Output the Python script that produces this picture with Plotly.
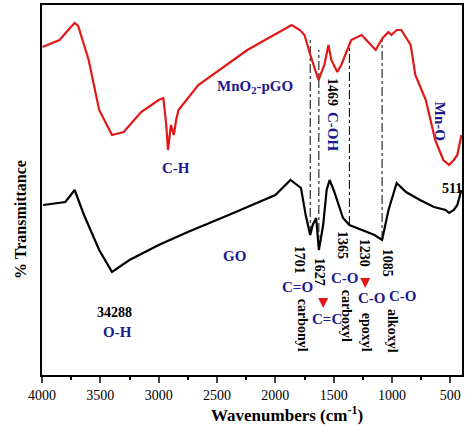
import plotly.graph_objects as go

# wavenumbers (cm-1) and transmittance (arbitrary units)
red_wn = [3995, 3850, 3760, 3720, 3690, 3600, 3510, 3400, 3300, 3150, 3000, 2960, 2935, 2920, 2895, 2870, 2850, 2830, 2660, 2240, 1860, 1790, 1750, 1700, 1630, 1580, 1545, 1520, 1469, 1435, 1350, 1260, 1180, 1140, 1080, 1030, 1005, 960, 920, 840, 800, 710, 630, 560, 511, 470, 440, 405]
red_t = [353, 360, 372, 377, 374, 340, 290, 265, 268, 288, 300, 302, 275, 250, 275, 265, 280, 290, 315, 350, 375, 370, 365, 345, 320, 335, 355, 340, 328, 335, 360, 365, 355, 350, 362, 368, 365, 370, 370, 355, 325, 300, 260, 240, 235, 240, 245, 265]
go_wn = [3990, 3800, 3760, 3720, 3640, 3510, 3400, 3250, 3000, 2750, 2400, 2000, 1870, 1780, 1740, 1701, 1680, 1650, 1627, 1590, 1560, 1535, 1500, 1470, 1420, 1365, 1300, 1230, 1150, 1085, 1030, 960, 880, 760, 640, 540, 511, 470, 440, 405]
go_t = [195, 198, 204, 210, 185, 150, 128, 140, 155, 168, 185, 205, 220, 212, 185, 165, 175, 182, 150, 175, 210, 220, 210, 200, 182, 175, 172, 168, 165, 160, 190, 217, 208, 200, 193, 190, 187, 190, 195, 210]
lines_wn = [1701, 1627, 1365, 1085]
lines_top = [360, 350, 355, 360]
lines_bot = [165, 150, 175, 160]

fig = go.Figure()
for w, t, b in zip(lines_wn, lines_top, lines_bot):
    fig.add_trace(go.Scatter(x=[w, w], y=[b, t], mode="lines",
                             line=dict(color="black", width=1, dash="dashdot"), showlegend=False))
fig.add_trace(go.Scatter(x=red_wn, y=red_t, mode="lines", line=dict(color="#e01818", width=2.2), showlegend=False))
fig.add_trace(go.Scatter(x=go_wn, y=go_t, mode="lines", line=dict(color="black", width=2.2), showlegend=False))

F = "Liberation Serif"
blue = "#1a1a8c"
def ann(x, y, text, color="black", angle=0, size=14):
    fig.add_annotation(x=x, y=y, text="<b>" + text + "</b>", showarrow=False, textangle=angle,
                       font=dict(family=F, size=size, color=color))

ann(2176, 313, "MnO<sub>2</sub>-pGO", blue, size=15)
ann(2855, 232, "C-H", blue, size=15)
ann(1506, 308, "1469", angle=90)
ann(1506, 268, "C-OH", blue, angle=90, size=15)
ann(587, 279, "Mn-O", blue, angle=90, size=15)
ann(490, 212, "511")
ann(2348, 144, "GO", blue, size=15)
ann(3380, 88, "34288")
ann(3353, 68, "O-H", blue, size=15)
ann(1787, 140, "1701", angle=90)
ann(1616, 128, "1627", angle=90)
ann(1419, 155, "1365", angle=90)
ann(1230, 147, "1230", angle=90)
ann(1032, 137, "1085", angle=90)
ann(1761, 75, "carbonyl", angle=90)
ann(1384, 84, "carboxyl", angle=90)
ann(1212, 68, "epoxyl", angle=90)
ann(991, 69, "alkoxyl", angle=90)
ann(1808, 113, "C=O", blue, size=15)
ann(1400, 122, "C-O", blue, size=15)
ann(1170, 102, "C-O", blue, size=15)
ann(905, 104, "C-O", blue, size=15)
ann(1556, 81, "C=C", blue, size=15)
fig.add_annotation(x=1590, y=92, ax=0, ay=-11, showarrow=True, arrowhead=2, arrowcolor="#e01818", arrowwidth=2, text="")
fig.add_annotation(x=1230, y=112, ax=0, ay=-11, showarrow=True, arrowhead=2, arrowcolor="#e01818", arrowwidth=2, text="")

fig.add_annotation(xref="paper", yref="paper", x=0.5 + 35/420, y=-0.07, xanchor="center", yanchor="top", showarrow=False,
                   text="<b>Wavenumbers (cm<sup>-1</sup>)</b>", font=dict(family=F, size=17, color="black"))
fig.add_annotation(xref="paper", yref="paper", x=-22/420, y=0.5 - 30/370, xanchor="center", yanchor="middle", showarrow=False,
                   textangle=-90, text="<b>% Transmittance</b>", font=dict(family=F, size=16, color="black"))

fig.update_layout(
    width=474, height=432, margin=dict(l=42, r=12, t=5, b=57),
    plot_bgcolor="white", paper_bgcolor="white",
    xaxis=dict(range=[4000, 400], tickvals=[4000, 3500, 3000, 2500, 2000, 1500, 1000, 500],
               minor=dict(tickvals=[3750, 3250, 2750, 2250, 1750, 1250, 750], ticks="outside", ticklen=3, tickcolor="black", tickwidth=2),
               ticks="outside", ticklen=6, tickwidth=2, linecolor="black", linewidth=2, mirror=True,
               showgrid=False, zeroline=False, automargin=False, tickfont=dict(family=F, size=14, color="black")),
    yaxis=dict(range=[25, 395], showticklabels=False, ticks="", linecolor="black", linewidth=2, mirror=True,
               showgrid=False, zeroline=False, automargin=False),
)
fig.write_html("out.html", config={"displayModeBar": False}, post_script="document.body.style.margin='0';")
